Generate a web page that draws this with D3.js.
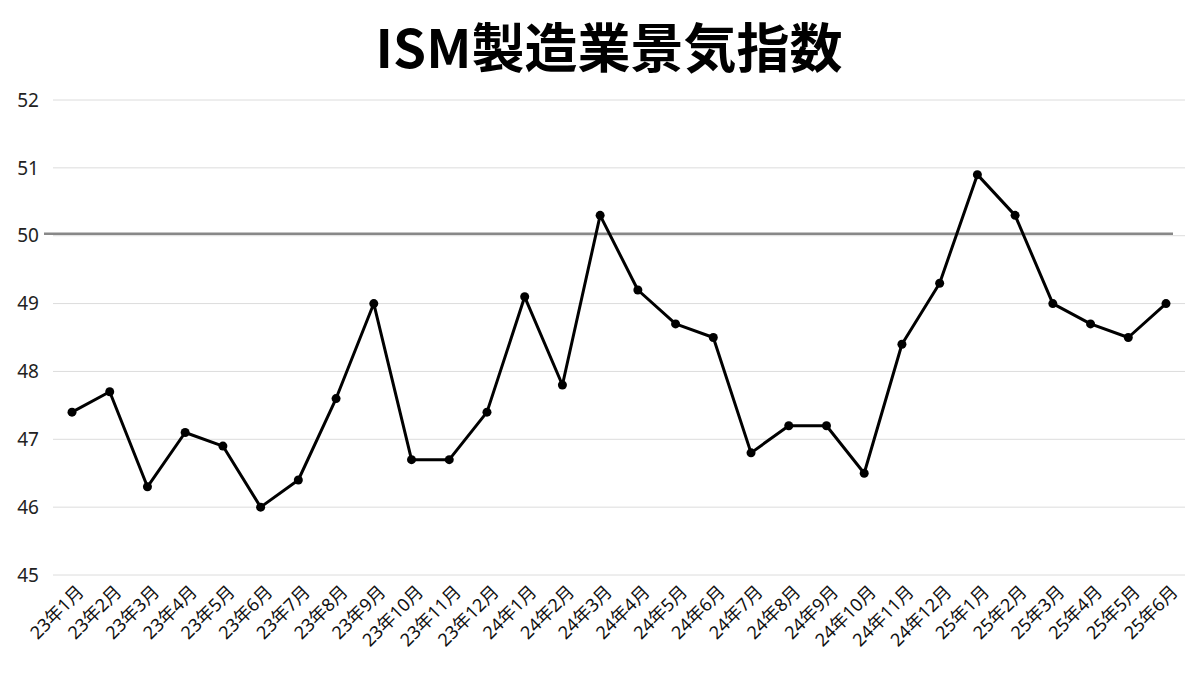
<!DOCTYPE html>
<html>
<head>
<meta charset="utf-8">
<script src="https://cdn.jsdelivr.net/npm/d3@7"></script>
<style>
  body { margin: 0; background: #fff; }
  text { font-family: "Noto Sans CJK JP", "Noto Sans", sans-serif; }
</style>
</head>
<body>
<div id="chart"></div>
<script>
var months = ["23年1月","23年2月","23年3月","23年4月","23年5月","23年6月","23年7月","23年8月","23年9月","23年10月","23年11月","23年12月",
              "24年1月","24年2月","24年3月","24年4月","24年5月","24年6月","24年7月","24年8月","24年9月","24年10月","24年11月","24年12月",
              "25年1月","25年2月","25年3月","25年4月","25年5月","25年6月"];
var ism = [47.4,47.7,46.3,47.1,46.9,46.0,46.4,47.6,49.0,46.7,46.7,47.4,
           49.1,47.8,50.3,49.2,48.7,48.5,46.8,47.2,47.2,46.5,48.4,49.3,
           50.9,50.3,49.0,48.7,48.5,49.0];
var yTicks = [45,46,47,48,49,50,51,52];
var refValue = 50;

function init() {
  var width = 1200, height = 675;

  var svg = d3.select("#chart")
    .append("svg")
    .attr("width", width)
    .attr("height", height);

  var x = d3.scalePoint()
    .domain(months)
    .range([72, 1166]);

  var y = d3.scaleLinear()
    .domain([45, 52])
    .range([575, 100]);

  // title
  svg.append("text")
    .attr("x", 609)
    .attr("y", 68)
    .attr("text-anchor", "middle")
    .style("font-size", "53px")
    .style("font-weight", "bold")
    .style("fill", "#000")
    .text("ISM製造業景気指数");

  // gridlines
  svg.append("g")
    .selectAll("line")
    .data(yTicks)
    .enter()
    .append("line")
    .attr("x1", 53)
    .attr("x2", 1185)
    .attr("y1", function(d) { return y(d); })
    .attr("y2", function(d) { return y(d); })
    .style("stroke", "#dcdcdc")
    .style("stroke-width", 1);

  // y labels
  svg.append("g")
    .selectAll("text")
    .data(yTicks)
    .enter()
    .append("text")
    .attr("x", 39)
    .attr("y", function(d) { return y(d); })
    .attr("dy", "0.35em")
    .attr("text-anchor", "end")
    .style("font-family", "'Noto Sans', sans-serif")
    .style("font-size", "19px")
    .style("fill", "#222")
    .text(function(d) { return d; });

  // 50 line
  svg.append("line")
    .attr("x1", 44)
    .attr("x2", 1173)
    .attr("y1", y(refValue) - 2)
    .attr("y2", y(refValue) - 2)
    .style("stroke", "#888")
    .style("stroke-width", 2.5);

  // x labels
  svg.append("g")
    .selectAll("text")
    .data(months)
    .enter()
    .append("text")
    .attr("transform", function(d) {
      return "translate(" + (x(d) + 13) + ",593) rotate(-45)";
    })
    .attr("text-anchor", "end")
    .style("font-family", "'Noto Sans', 'Noto Sans CJK JP', sans-serif")
    .style("font-size", "18px")
    .style("fill", "#111")
    .text(function(d) { return d; });

  var line = d3.line()
    .x(function(d, i) { return x(months[i]); })
    .y(function(d) { return y(d); });

  svg.append("path")
    .datum(ism)
    .attr("d", line)
    .style("fill", "none")
    .style("stroke", "#000")
    .style("stroke-width", 3)
    .style("stroke-linejoin", "round");

  svg.append("g")
    .selectAll("circle")
    .data(ism)
    .enter()
    .append("circle")
    .attr("cx", function(d, i) { return x(months[i]); })
    .attr("cy", function(d) { return y(d); })
    .attr("r", 4.5)
    .style("fill", "#000");
}

window.onload = init;
</script>
</body>
</html>
